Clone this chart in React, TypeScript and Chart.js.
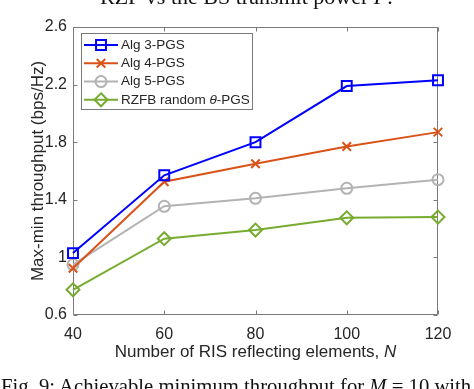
import React, { useEffect, useRef } from "react";
import { Chart, registerables } from "chart.js";

Chart.register(...registerables);

const elementsN = [40, 60, 80, 100, 120];
const alg3 = [1.03, 1.57, 1.8, 2.19, 2.23];
const alg4 = [0.925, 1.525, 1.65, 1.77, 1.87];
const alg5 = [0.95, 1.355, 1.41, 1.48, 1.54];
const rzfb = [0.775, 1.13, 1.19, 1.275, 1.28];
const yTicks = [0.6, 1, 1.4, 1.8, 2.2, 2.6];
const xTicks = [40, 60, 80, 100, 120];
const seriesNames = ["Alg 3-PGS", "Alg 4-PGS", "Alg 5-PGS", "RZFB random "];
const seriesColors = ["#0000ff", "#d95319", "#b3b3b3", "#77ac30"];
const seriesMarkers = ["rect", "crossRot", "circle", "rectRot"];
const markerRadius = [7, 6, 5.5, 6.5];

const SANS = '"Liberation Sans", Arial, Helvetica, sans-serif';
const AXIS_COLOR = "#7a7a7a";
const TEXT_COLOR = "#262626";

function drawMarker(ctx: CanvasRenderingContext2D, style: string, x: number, y: number, r: number) {
  ctx.beginPath();
  if (style === "rect") {
    const s = r * Math.SQRT1_2;
    ctx.rect(x - s, y - s, 2 * s, 2 * s);
  } else if (style === "crossRot") {
    const s = r * Math.SQRT1_2;
    ctx.moveTo(x - s, y - s);
    ctx.lineTo(x + s, y + s);
    ctx.moveTo(x + s, y - s);
    ctx.lineTo(x - s, y + s);
  } else if (style === "circle") {
    ctx.arc(x, y, r, 0, Math.PI * 2);
  } else {
    ctx.moveTo(x, y - r);
    ctx.lineTo(x + r, y);
    ctx.lineTo(x, y + r);
    ctx.lineTo(x - r, y);
    ctx.closePath();
  }
  ctx.stroke();
}

const framePlugin = {
  id: "matlabFrame",
  beforeDatasetsDraw(chart: any) {
    const { ctx, chartArea } = chart;
    const xs = chart.scales.x;
    const ys = chart.scales.y;
    const l = Math.round(chartArea.left) + 0.5;
    const r = Math.round(chartArea.right) - 0.5;
    const t = Math.round(chartArea.top) + 0.5;
    const b = Math.round(chartArea.bottom) - 0.5;
    ctx.save();
    ctx.strokeStyle = AXIS_COLOR;
    ctx.lineWidth = 1;
    ctx.beginPath();
    ctx.rect(l, t, r - l, b - t);
    const tl = 4;
    xTicks.forEach((v) => {
      const px = Math.round(xs.getPixelForValue(v)) + 0.5;
      ctx.moveTo(px, b);
      ctx.lineTo(px, b - tl);
      ctx.moveTo(px, t);
      ctx.lineTo(px, t + tl);
    });
    yTicks.forEach((v) => {
      const py = Math.round(ys.getPixelForValue(v)) + 0.5;
      ctx.moveTo(l, py);
      ctx.lineTo(l + tl, py);
      ctx.moveTo(r, py);
      ctx.lineTo(r - tl, py);
    });
    ctx.stroke();
    ctx.restore();
  },
  afterDatasetsDraw(chart: any) {
    const { ctx, chartArea } = chart;
    ctx.save();
    // legend
    const lx = 81.5, ly = 33.5, lw = 171, lh = 76;
    ctx.fillStyle = "#ffffff";
    ctx.fillRect(lx, ly, lw, lh);
    ctx.strokeStyle = AXIS_COLOR;
    ctx.lineWidth = 1;
    ctx.strokeRect(lx, ly, lw, lh);
    const rowsY = [45, 63.3, 81.6, 99.8];
    ctx.font = `13.5px ${SANS}`;
    ctx.textBaseline = "middle";
    seriesNames.forEach((name, i) => {
      const y = rowsY[i];
      ctx.strokeStyle = seriesColors[i];
      ctx.lineWidth = 2;
      ctx.beginPath();
      ctx.moveTo(84, y);
      ctx.lineTo(118, y);
      ctx.stroke();
      drawMarker(ctx, seriesMarkers[i], 101, y, markerRadius[i]);
      ctx.fillStyle = TEXT_COLOR;
      ctx.textAlign = "left";
      ctx.font = `13.5px ${SANS}`;
      ctx.fillText(name, 121, y);
      if (i === 3) {
        let x = 121 + ctx.measureText(name).width;
        ctx.font = `italic 13.5px ${SANS}`;
        ctx.fillText("θ", x, y);
        x += ctx.measureText("θ").width;
        ctx.font = `13.5px ${SANS}`;
        ctx.fillText("-PGS", x, y);
      }
    });
    // x title
    ctx.fillStyle = TEXT_COLOR;
    ctx.textBaseline = "alphabetic";
    ctx.textAlign = "left";
    const xt1 = "Number of RIS reflecting elements, ";
    ctx.font = `17px ${SANS}`;
    const w1 = ctx.measureText(xt1).width;
    ctx.font = `italic 17px ${SANS}`;
    const w2 = ctx.measureText("N").width;
    const cx = (chartArea.left + chartArea.right) / 2;
    const sx = cx - (w1 + w2) / 2;
    ctx.font = `17px ${SANS}`;
    ctx.fillText(xt1, sx, 357);
    ctx.font = `italic 17px ${SANS}`;
    ctx.fillText("N", sx + w1, 357);
    // y title
    ctx.translate(43, (chartArea.top + chartArea.bottom) / 2);
    ctx.rotate(-Math.PI / 2);
    ctx.font = `17px ${SANS}`;
    ctx.textAlign = "center";
    ctx.fillText("Max-min throughput (bps/Hz)", 0, 0);
    ctx.restore();
  },
};

function makeDataset(label: string, data: number[], i: number) {
  return {
    label,
    data: elementsN.map((x, k) => ({ x, y: data[k] })),
    borderColor: seriesColors[i],
    backgroundColor: "rgba(0,0,0,0)",
    borderWidth: 2,
    pointStyle: seriesMarkers[i],
    pointRadius: markerRadius[i],
    pointBorderWidth: 2,
    pointBorderColor: seriesColors[i],
    pointBackgroundColor: "rgba(0,0,0,0)",
    tension: 0,
    clip: false,
  };
}

export default function App() {
  const canvasRef = useRef<HTMLCanvasElement>(null);
  useEffect(() => {
    const canvas = canvasRef.current;
    if (!canvas) return;
    const chart = new Chart(canvas, {
      type: "line",
      data: {
        datasets: [
          makeDataset("Alg 3-PGS", alg3, 0),
          makeDataset("Alg 4-PGS", alg4, 1),
          makeDataset("Alg 5-PGS", alg5, 2),
          makeDataset("RZFB random θ-PGS", rzfb, 3),
        ],
      },
      options: {
        animation: false,
        responsive: false,
        devicePixelRatio: 1,
        layout: { padding: { left: 0, top: 27, right: 36, bottom: 0 } },
        plugins: { legend: { display: false }, tooltip: { enabled: false } },
        scales: {
          x: {
            type: "linear",
            min: 40,
            max: 120,
            afterFit: (s: any) => {
              s.height = 74;
            },
            afterBuildTicks: (s: any) => {
              s.ticks = xTicks.map((v) => ({ value: v }));
            },
            grid: { display: false, drawTicks: false },
            border: { display: false },
            ticks: {
              padding: 10,
              color: TEXT_COLOR,
              font: { size: 16, family: SANS },
              callback: (v: any) => String(v),
              maxRotation: 0,
            },
          },
          y: {
            type: "linear",
            min: 0.6,
            max: 2.6,
            afterFit: (s: any) => {
              s.width = 73;
            },
            afterBuildTicks: (s: any) => {
              s.ticks = yTicks.map((v) => ({ value: v }));
            },
            grid: { display: false, drawTicks: false },
            border: { display: false },
            ticks: {
              padding: 6,
              color: TEXT_COLOR,
              font: { size: 16, family: SANS },
              callback: (v: any) => String(Math.round(Number(v) * 10) / 10),
            },
          },
        },
      },
      plugins: [framePlugin],
    } as any);
    return () => chart.destroy();
  }, []);

  return (
    <div
      style={{
        position: "fixed",
        left: 0,
        top: 0,
        width: 474,
        height: 389,
        overflow: "hidden",
        background: "#ffffff",
      }}
    >
      <canvas ref={canvasRef} width={474} height={389} style={{ position: "absolute", left: 0, top: 0, width: 474, height: 389 }} />
      <div
        style={{
          position: "absolute",
          left: 100,
          top: -13.6,
          fontFamily: '"Liberation Serif", "Times New Roman", serif',
          fontSize: 22,
          lineHeight: "22px",
          whiteSpace: "nowrap",
          color: "#111",
        }}
      >
        RZF vs the BS transmit power <i>P</i>.
      </div>
      <div
        style={{
          position: "absolute",
          left: 1,
          top: 375.5,
          fontFamily: '"Liberation Serif", "Times New Roman", serif',
          fontSize: 20.7,
          lineHeight: "21px",
          whiteSpace: "nowrap",
          color: "#111",
        }}
      >
        Fig. 9: Achievable minimum throughput for <i>M</i> = 10 with
      </div>
    </div>
  );
}
